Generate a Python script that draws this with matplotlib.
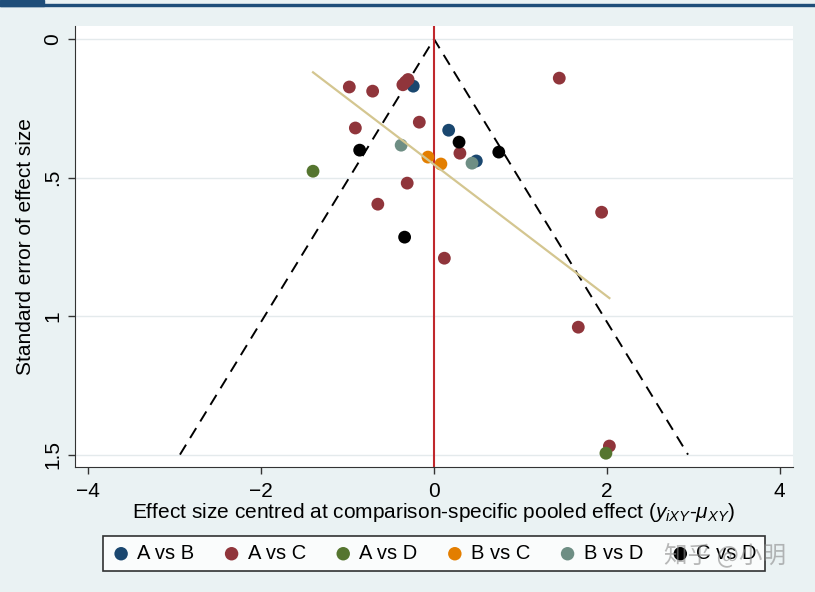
import matplotlib
matplotlib.use('Agg')
import matplotlib.pyplot as plt
from matplotlib.patches import Rectangle

plt.rcParams['font.family'] = ['Liberation Sans', 'DejaVu Sans']
plt.rcParams['mathtext.fontset'] = 'custom'
plt.rcParams['mathtext.it'] = 'Liberation Sans:italic'
plt.rcParams['mathtext.rm'] = 'Liberation Sans'

# comparison groups
comparisons = ['A vs B', 'A vs C', 'A vs D', 'B vs C', 'B vs D', 'C vs D']
colors = ['#1a476f', '#90353b', '#55752f', '#e37e00', '#6e8e84', '#000000']

# centred effect sizes and standard errors
effectAB = [-0.24, 0.17, 0.49]
seAB = [0.170, 0.329, 0.440]
effectAC = [-0.98, -0.71, -0.36, -0.33, -0.30, 1.45, -0.91, -0.17, 0.30, -0.31, -0.65, 0.12, 1.94, 1.67, 2.03]
seAC = [0.173, 0.188, 0.165, 0.155, 0.146, 0.141, 0.321, 0.300, 0.412, 0.520, 0.596, 0.791, 0.625, 1.040, 1.469]
effectAD = [-1.40, 1.99]
seAD = [0.477, 1.495]
effectBC = [-0.07, 0.08]
seBC = [0.426, 0.451]
effectBD = [-0.38, 0.44]
seBD = [0.383, 0.448]
effectCD = [-0.86, 0.29, 0.75, -0.34]
seCD = [0.401, 0.372, 0.408, 0.715]

# pseudo 95% limits and fitted line
funnelX = [-2.94, 0, 2.94]
funnelSE = [1.5, 0, 1.5]
fitX = [-1.40, 2.03]
fitSE = [0.12, 0.935]

xTicks = [-4, -2, 0, 2, 4]
yTicks = [0, 0.5, 1, 1.5]
yTickLabels = ['0', '.5', '1', '1.5']

bg = '#eaf2f3'
fig = plt.figure(figsize=(8.15, 5.92), dpi=100, facecolor=bg)
ax = fig.add_axes([0.092, 0.211, 0.881, 0.745])
ax.set_facecolor('white')

for y in yTicks:
	ax.axhline(y, color='#e4eaec', linewidth=1, zorder=0)

ax.plot(funnelX, funnelSE, color='black', linestyle=(0, (6, 4)), linewidth=1.4, zorder=2)
ax.axvline(0, color='#c0282d', linewidth=1.5, zorder=2)

groups = [(effectAB, seAB), (effectAC, seAC), (effectAD, seAD), (effectBC, seBC), (effectBD, seBD), (effectCD, seCD)]
for (ex, se), name, c in zip(groups, comparisons, colors):
	ax.scatter(ex, se, s=85, color=c, edgecolors='none', label=name, zorder=3)

ax.plot(fitX, fitSE, color='#d4c690', linewidth=1.6, zorder=4)

ax.set_xlim(-4.155, 4.155)
ax.set_ylim(1.545, -0.047)
ax.set_xticks(xTicks)
ax.set_yticks(yTicks)
ax.set_yticklabels(yTickLabels, rotation=90, va='center')
ax.tick_params(labelsize=15, length=5, width=1, color='#333333')
ax.tick_params(axis='x', pad=6)
ax.tick_params(axis='y', pad=4)
for side in ['top', 'right']:
	ax.spines[side].set_visible(False)
for side in ['left', 'bottom']:
	ax.spines[side].set_color('#333333')

ax.set_xlabel('Effect size centred at comparison-specific pooled effect ($y_{iXY}$-$\\mu_{XY}$)', fontsize=15, labelpad=0)
ax.set_ylabel('Standard error of effect size', fontsize=15, labelpad=6)

leg = fig.legend(loc='center', bbox_to_anchor=(0.5325, 0.065), ncol=6, fontsize=14.5, frameon=True,
	fancybox=False, edgecolor='black', handletextpad=0.3, columnspacing=1.35, markerscale=1.05,
	borderpad=0.4, handlelength=1.0)
leg.get_frame().set_linewidth(1.2)

# watermark and window chrome from the screenshot
fig.text(0.815, 0.062, '知乎 @小明', fontsize=17, color='#8a8a8a', alpha=0.6, zorder=10,
	family=['Noto Sans CJK SC', 'DejaVu Sans'], ha='left', va='center')
fig.patches.append(Rectangle((0, 0.990), 1, 0.003, transform=fig.transFigure, color='#1f4e79'))
fig.patches.append(Rectangle((0, 0.990), 0.054, 0.010, transform=fig.transFigure, color='#1f4e79'))

plt.savefig('out.png', dpi=100, facecolor=bg)
